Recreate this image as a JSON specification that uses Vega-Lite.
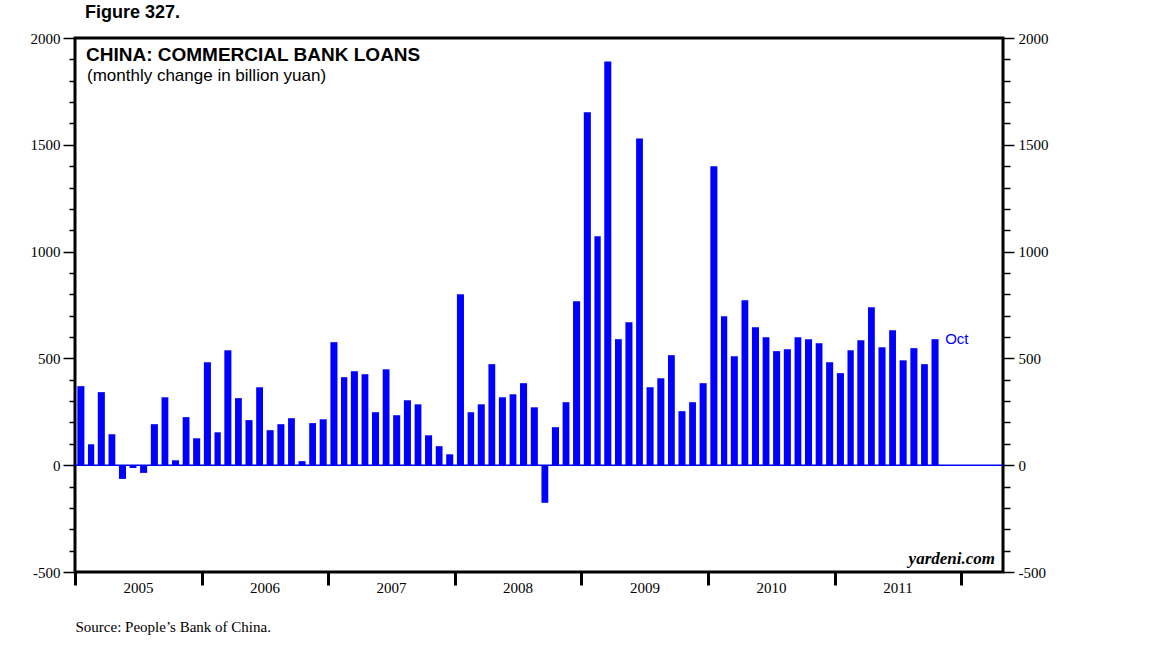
{
  "$schema": "https://vega.github.io/schema/vega-lite/v6.json",
  "width": 928,
  "height": 534,
  "autosize": {"type": "none"},
  "padding": {"left": 75, "top": 38, "right": 149, "bottom": 76},
  "background": "white",
  "title": {
    "text": "Figure 327.",
    "anchor": "start",
    "frame": "group",
    "dx": 10,
    "offset": 9,
    "font": "Liberation Sans",
    "fontSize": 18,
    "fontWeight": "bold",
    "color": "black"
  },
  "datasets": {
    "loans": [
      {"date": "2005-01-01", "value": 370}, {"date": "2005-02-01", "value": 98}, {"date": "2005-03-01", "value": 342},
      {"date": "2005-04-01", "value": 145}, {"date": "2005-05-01", "value": -64}, {"date": "2005-06-01", "value": -13},
      {"date": "2005-07-01", "value": -36}, {"date": "2005-08-01", "value": 192}, {"date": "2005-09-01", "value": 318},
      {"date": "2005-10-01", "value": 23}, {"date": "2005-11-01", "value": 225}, {"date": "2005-12-01", "value": 126},
      {"date": "2006-01-01", "value": 482}, {"date": "2006-02-01", "value": 154}, {"date": "2006-03-01", "value": 538},
      {"date": "2006-04-01", "value": 314}, {"date": "2006-05-01", "value": 211}, {"date": "2006-06-01", "value": 365},
      {"date": "2006-07-01", "value": 164}, {"date": "2006-08-01", "value": 192}, {"date": "2006-09-01", "value": 220},
      {"date": "2006-10-01", "value": 19}, {"date": "2006-11-01", "value": 197}, {"date": "2006-12-01", "value": 215},
      {"date": "2007-01-01", "value": 576}, {"date": "2007-02-01", "value": 412}, {"date": "2007-03-01", "value": 440},
      {"date": "2007-04-01", "value": 426}, {"date": "2007-05-01", "value": 248}, {"date": "2007-06-01", "value": 449},
      {"date": "2007-07-01", "value": 234}, {"date": "2007-08-01", "value": 304}, {"date": "2007-09-01", "value": 285},
      {"date": "2007-10-01", "value": 140}, {"date": "2007-11-01", "value": 89}, {"date": "2007-12-01", "value": 51},
      {"date": "2008-01-01", "value": 800}, {"date": "2008-02-01", "value": 248}, {"date": "2008-03-01", "value": 285},
      {"date": "2008-04-01", "value": 473}, {"date": "2008-05-01", "value": 318}, {"date": "2008-06-01", "value": 332},
      {"date": "2008-07-01", "value": 384}, {"date": "2008-08-01", "value": 271}, {"date": "2008-09-01", "value": -176},
      {"date": "2008-10-01", "value": 178}, {"date": "2008-11-01", "value": 295}, {"date": "2008-12-01", "value": 768},
      {"date": "2009-01-01", "value": 1652}, {"date": "2009-02-01", "value": 1072}, {"date": "2009-03-01", "value": 1890},
      {"date": "2009-04-01", "value": 590}, {"date": "2009-05-01", "value": 669}, {"date": "2009-06-01", "value": 1530},
      {"date": "2009-07-01", "value": 365}, {"date": "2009-08-01", "value": 407}, {"date": "2009-09-01", "value": 515},
      {"date": "2009-10-01", "value": 253}, {"date": "2009-11-01", "value": 295}, {"date": "2009-12-01", "value": 384},
      {"date": "2010-01-01", "value": 1399}, {"date": "2010-02-01", "value": 697}, {"date": "2010-03-01", "value": 510},
      {"date": "2010-04-01", "value": 772}, {"date": "2010-05-01", "value": 646}, {"date": "2010-06-01", "value": 599},
      {"date": "2010-07-01", "value": 534}, {"date": "2010-08-01", "value": 543}, {"date": "2010-09-01", "value": 599},
      {"date": "2010-10-01", "value": 590}, {"date": "2010-11-01", "value": 571}, {"date": "2010-12-01", "value": 482},
      {"date": "2011-01-01", "value": 431}, {"date": "2011-02-01", "value": 538}, {"date": "2011-03-01", "value": 585},
      {"date": "2011-04-01", "value": 739}, {"date": "2011-05-01", "value": 552}, {"date": "2011-06-01", "value": 632},
      {"date": "2011-07-01", "value": 491}, {"date": "2011-08-01", "value": 548}, {"date": "2011-09-01", "value": 473},
      {"date": "2011-10-01", "value": 590}
    ],
    "latest": [
      {"date": "2011-10-01", "value": 590, "label": "Oct"}
    ],
    "single": [{}]
  },
  "layer": [
    {
      "data": {"name": "loans"},
      "mark": {"type": "bar", "color": "#0000ff", "width": {"band": 0.75}},
      "encoding": {
        "x": {
          "field": "date",
          "timeUnit": "utcyearmonth",
          "type": "temporal",
          "scale": {
            "type": "utc",
            "domain": [
              {"year": 2005, "month": 1, "date": 1, "utc": true},
              {"year": 2012, "month": 5, "date": 1, "utc": true}
            ]
          },
          "axis": {
            "orient": "bottom",
            "values": [
              {"year": 2005, "utc": true}, {"year": 2006, "utc": true}, {"year": 2007, "utc": true},
              {"year": 2008, "utc": true}, {"year": 2009, "utc": true}, {"year": 2010, "utc": true},
              {"year": 2011, "utc": true}, {"year": 2012, "utc": true}
            ],
            "format": "%Y",
            "labelExpr": "datum.label == '2012' ? '' : datum.label",
            "labelOffset": 63,
            "labelPadding": -5,
            "labelFlush": false,
            "labelOverlap": false,
            "tickSize": 13,
            "tickWidth": 3,
            "title": "Source: People’s Bank of China.",
            "titleAnchor": "start",
            "titleAlign": "left",
            "titleFont": "Liberation Serif",
            "titleFontSize": 15,
            "titleFontWeight": "normal",
            "titleColor": "black",
            "titlePadding": 24
          }
        },
        "y": {
          "field": "value",
          "type": "quantitative",
          "scale": {"domain": [-500, 2000], "nice": false, "zero": false},
          "axis": {
            "orient": "left",
            "values": [-500, 0, 500, 1000, 1500, 2000],
            "labelExpr": "'' + datum.value",
            "tickSize": 12,
            "tickWidth": 1.5,
            "labelPadding": 3,
            "title": null
          }
        }
      }
    },
    {
      "data": {"name": "single"},
      "mark": {"type": "rule", "color": "#0000ff", "strokeWidth": 1.5},
      "encoding": {
        "y": {
          "datum": 0,
          "type": "quantitative",
          "axis": {
            "orient": "left",
            "values": [-400, -300, -200, -100, 100, 200, 300, 400, 600, 700, 800, 900, 1100, 1200, 1300, 1400, 1600, 1700, 1800, 1900],
            "tickSize": 6,
            "tickWidth": 1.5,
            "labels": false,
            "title": null
          }
        }
      }
    },
    {
      "data": {"name": "latest"},
      "mark": {"type": "text", "align": "left", "baseline": "middle", "dx": 16, "font": "Liberation Sans", "fontSize": 15, "color": "#0000ff"},
      "encoding": {
        "x": {"field": "date", "type": "temporal"},
        "y": {
          "field": "value",
          "type": "quantitative",
          "axis": {
            "orient": "right",
            "values": [-500, 0, 500, 1000, 1500, 2000],
            "labelExpr": "'' + datum.value",
            "tickSize": 11,
            "tickWidth": 1.5,
            "labelPadding": 4,
            "title": null
          }
        },
        "text": {"field": "label"}
      }
    },
    {
      "data": {"name": "single"},
      "mark": {"type": "text", "text": "yardeni.com", "align": "right", "baseline": "alphabetic", "dx": -8, "dy": -8, "font": "Liberation Serif", "fontSize": 17, "fontStyle": "italic", "fontWeight": "bold", "color": "black"},
      "encoding": {
        "x": {"datum": {"year": 2012, "month": 5, "date": 1, "utc": true}, "type": "temporal"},
        "y": {
          "datum": -500,
          "type": "quantitative",
          "axis": {
            "orient": "right",
            "values": [-400, -300, -200, -100, 100, 200, 300, 400, 600, 700, 800, 900, 1100, 1200, 1300, 1400, 1600, 1700, 1800, 1900],
            "tickSize": 7,
            "tickWidth": 1.5,
            "labels": false,
            "title": null
          }
        }
      }
    },
    {
      "data": {"name": "single"},
      "mark": {"type": "text", "text": "CHINA: COMMERCIAL BANK LOANS", "align": "left", "baseline": "middle", "dx": 11, "font": "Liberation Sans", "fontSize": 19, "fontWeight": "bold", "color": "black"},
      "encoding": {
        "x": {"datum": {"year": 2005, "month": 1, "date": 1, "utc": true}, "type": "temporal"},
        "y": {"datum": 1920, "type": "quantitative", "axis": null}
      }
    },
    {
      "data": {"name": "single"},
      "mark": {"type": "text", "text": "(monthly change in billion yuan)", "align": "left", "baseline": "middle", "dx": 12, "font": "Liberation Sans", "fontSize": 17, "color": "black"},
      "encoding": {
        "x": {"datum": {"year": 2005, "month": 1, "date": 1, "utc": true}, "type": "temporal"},
        "y": {"datum": 1822, "type": "quantitative", "axis": null}
      }
    }
  ],
  "resolve": {"axis": {"y": "independent"}},
  "config": {
    "view": {"stroke": "black", "strokeWidth": 3},
    "axis": {
      "domain": false,
      "grid": false,
      "tickColor": "black",
      "labelColor": "black",
      "labelFont": "Liberation Serif",
      "labelFontSize": 15
    }
  }
}
